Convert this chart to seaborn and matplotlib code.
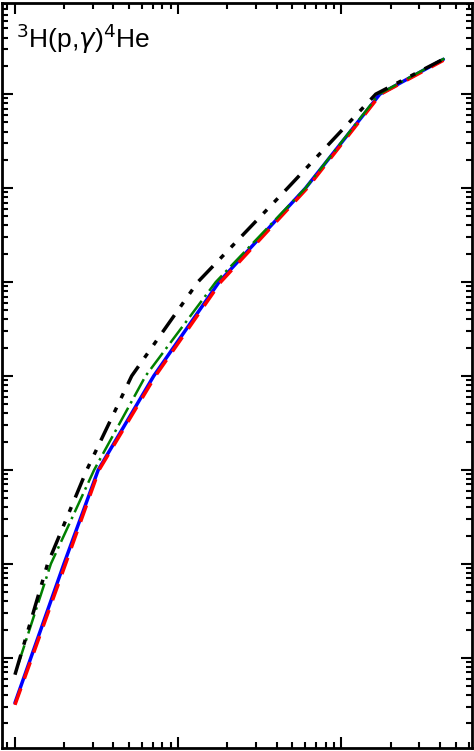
import numpy as np
import matplotlib
matplotlib.use("Agg")
import matplotlib.pyplot as plt
import seaborn as sns

# log10 values
red_x = [-3.0, -2.69, -2.485, -2.14, -1.74, -1.21, -0.76, -0.376]
red_y = [-0.5, 1.0, 2.0, 3.0, 4.0, 5.0, 6.0, 6.36]
blue_x = [-3.0, -2.70, -2.49, -2.15, -1.75, -1.22, -0.765, -0.376]
blue_y = [-0.48, 1.0, 2.0, 3.0, 4.0, 5.0, 6.0, 6.37]
green_x = [-2.98, -2.78, -2.515, -2.2, -1.77, -1.22, -0.77, -0.37]
green_y = [-0.07, 1.0, 2.0, 3.0, 4.0, 5.0, 6.0, 6.38]
black_x = [-3.0, -2.8, -2.56, -2.285, -1.88, -1.33, -0.79, -0.39]
black_y = [-0.18, 1.0, 2.0, 3.0, 4.0, 5.0, 6.0, 6.36]

sns.set_style("ticks")
fig = plt.figure(figsize=(4.74, 7.51), dpi=100)
ax = fig.add_axes([0.004, 0.004, 0.992, 0.992])

def pw(v):
    return 10 ** np.array(v)

sns.lineplot(x=pw(blue_x), y=pw(blue_y), ax=ax, color="blue", lw=2.5, sort=False)
sns.lineplot(x=pw(red_x), y=pw(red_y), ax=ax, color="red", lw=2.5, ls=(0, (5, 3)), sort=False)
sns.lineplot(x=pw(green_x), y=pw(green_y), ax=ax, color="green", lw=1.8, ls=(0, (8, 2, 1, 2)), sort=False)
sns.lineplot(x=pw(black_x), y=pw(black_y), ax=ax, color="black", lw=2.5, ls=(0, (6, 3, 1.5, 3, 1.5, 3)), sort=False)

ax.set_xscale("log")
ax.set_yscale("log")
ax.set_xlim(10 ** -3.08, 10 ** -0.2)
ax.set_ylim(10 ** -0.96, 10 ** 6.97)
ax.tick_params(which="both", direction="in", top=True, right=True,
               labelbottom=False, labelleft=False, width=1.5, color="black")
ax.tick_params(which="major", length=8)
ax.tick_params(which="minor", length=4)
for s in ax.spines.values():
    s.set_linewidth(2)
    s.set_color("black")
ax.text(0.03, 0.975, r"$^3$H(p,$\gamma$)$^4$He", transform=ax.transAxes,
        fontsize=19, va="top", ha="left", family="Liberation Sans", color="black")
fig.savefig("out.png", dpi=100)
